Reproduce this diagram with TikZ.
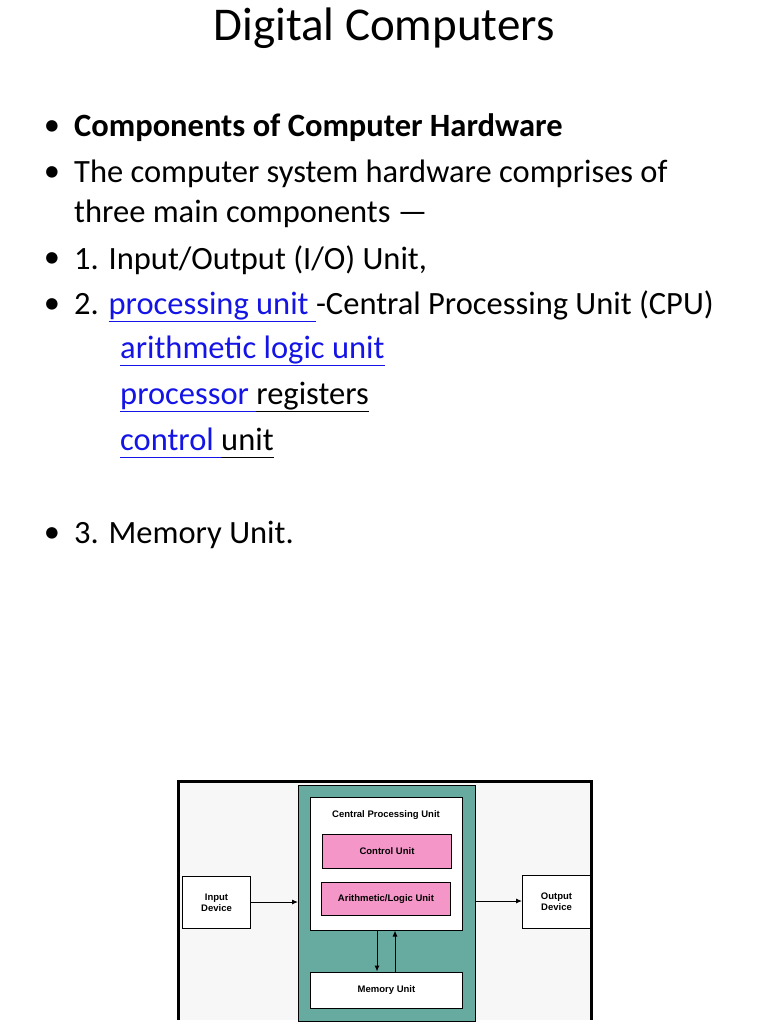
\documentclass[tikz,border=0pt]{standalone}
\usepackage{fontspec}
\setmainfont{Carlito}
\newfontfamily\arialf{Liberation Sans}
\newcommand\myul[1]{\underline{#1\vphantom{gy}}}
\usetikzlibrary{arrows.meta}
\definecolor{lnk}{RGB}{20,20,230}
\definecolor{teal1}{RGB}{102,170,160}
\definecolor{pinkb}{RGB}{245,150,200}
\begin{document}
\begin{tikzpicture}[x=1pt,y=-1pt,
  body/.style={anchor=west,font=\fontsize{32.5}{36}\selectfont,inner sep=0},
  bul/.style={anchor=center,font=\fontsize{32.5}{36}\selectfont,inner sep=0},
  box/.style={draw,line width=1pt,fill=white,font=\arialf\bfseries\fontsize{9.5}{11}\selectfont,align=center,inner sep=0},
  arr/.style={-{Latex[length=6pt,width=5pt]},line width=1pt}]
\useasboundingbox (0,0) rectangle (768,1024);
\node (title) at (384,28) {\fontsize{47}{50}\selectfont Digital Computers};
\foreach \y/\n in {128/b1,174/b2,260/b3,306/b4,535/b5} \node[bul] (\n) at (52,\y) {•};
\node[body] (t1) at (74,128) {\textbf{Components of Computer Hardware}};
\node[body] (t2) at (74,174) {The computer system hardware comprises of};
\node[body] (t2b) at (74,214) {three main components —};
\node[body] (t3) at (74,260) {1. Input/Output (I/O) Unit,};
\node[body] (t4) at (74,306) {2. {\color{lnk}\myul{processing unit }}-Central Processing Unit (CPU)};
\node[body] (t5) at (120,351) {{\color{lnk}\myul{arithmetic logic unit}}};
\node[body] (t6) at (120,397) {{\color{lnk}\myul{processor }}\myul{registers}};
\node[body] (t7) at (120,443) {{\color{lnk}\myul{control }}\myul{unit}};
\node[body] (t8) at (74,535) {3. Memory Unit.};
% diagram
\fill[gray!6] (178,781) rectangle (591,1020);
\draw[line width=3pt] (178,1020) -- (178,781) -- (591,781) -- (591,1020);
\node[draw=black,line width=1pt,fill=teal1,minimum width=177,minimum height=236,anchor=north west,inner sep=0] (teal) at (298,785) {};
\node[box,minimum width=152,minimum height=133,anchor=north west] (cpu) at (310,797) {};
\node[font=\arialf\bfseries\fontsize{9.5}{11}\selectfont] (cpul) at (386,815) {Central Processing Unit};
\node[box,fill=pinkb,minimum width=129,minimum height=34,anchor=north west] (cu) at (322,834) {Control Unit};
\node[box,fill=pinkb,minimum width=129,minimum height=33,anchor=north west] (alu) at (321,882) {Arithmetic/Logic Unit};
\node[box,minimum width=152,minimum height=36,anchor=north west] (mem) at (310,972) {Memory Unit};
\node[box,minimum width=68,minimum height=52,anchor=north west] (in) at (182,876) {Input\\Device};
\node[box,minimum width=68,minimum height=53,anchor=north west] (out) at (522,875) {Output\\Device};
\draw[arr] (in.east |- 0,902) -- (teal.west |- 0,902);
\draw[arr] (teal.east |- 0,901) -- (out.west |- 0,901);
\draw[arr] (377,930) -- (377,971.5);
\draw[arr] (395,972) -- (395,930.5);
\end{tikzpicture}
\end{document}
